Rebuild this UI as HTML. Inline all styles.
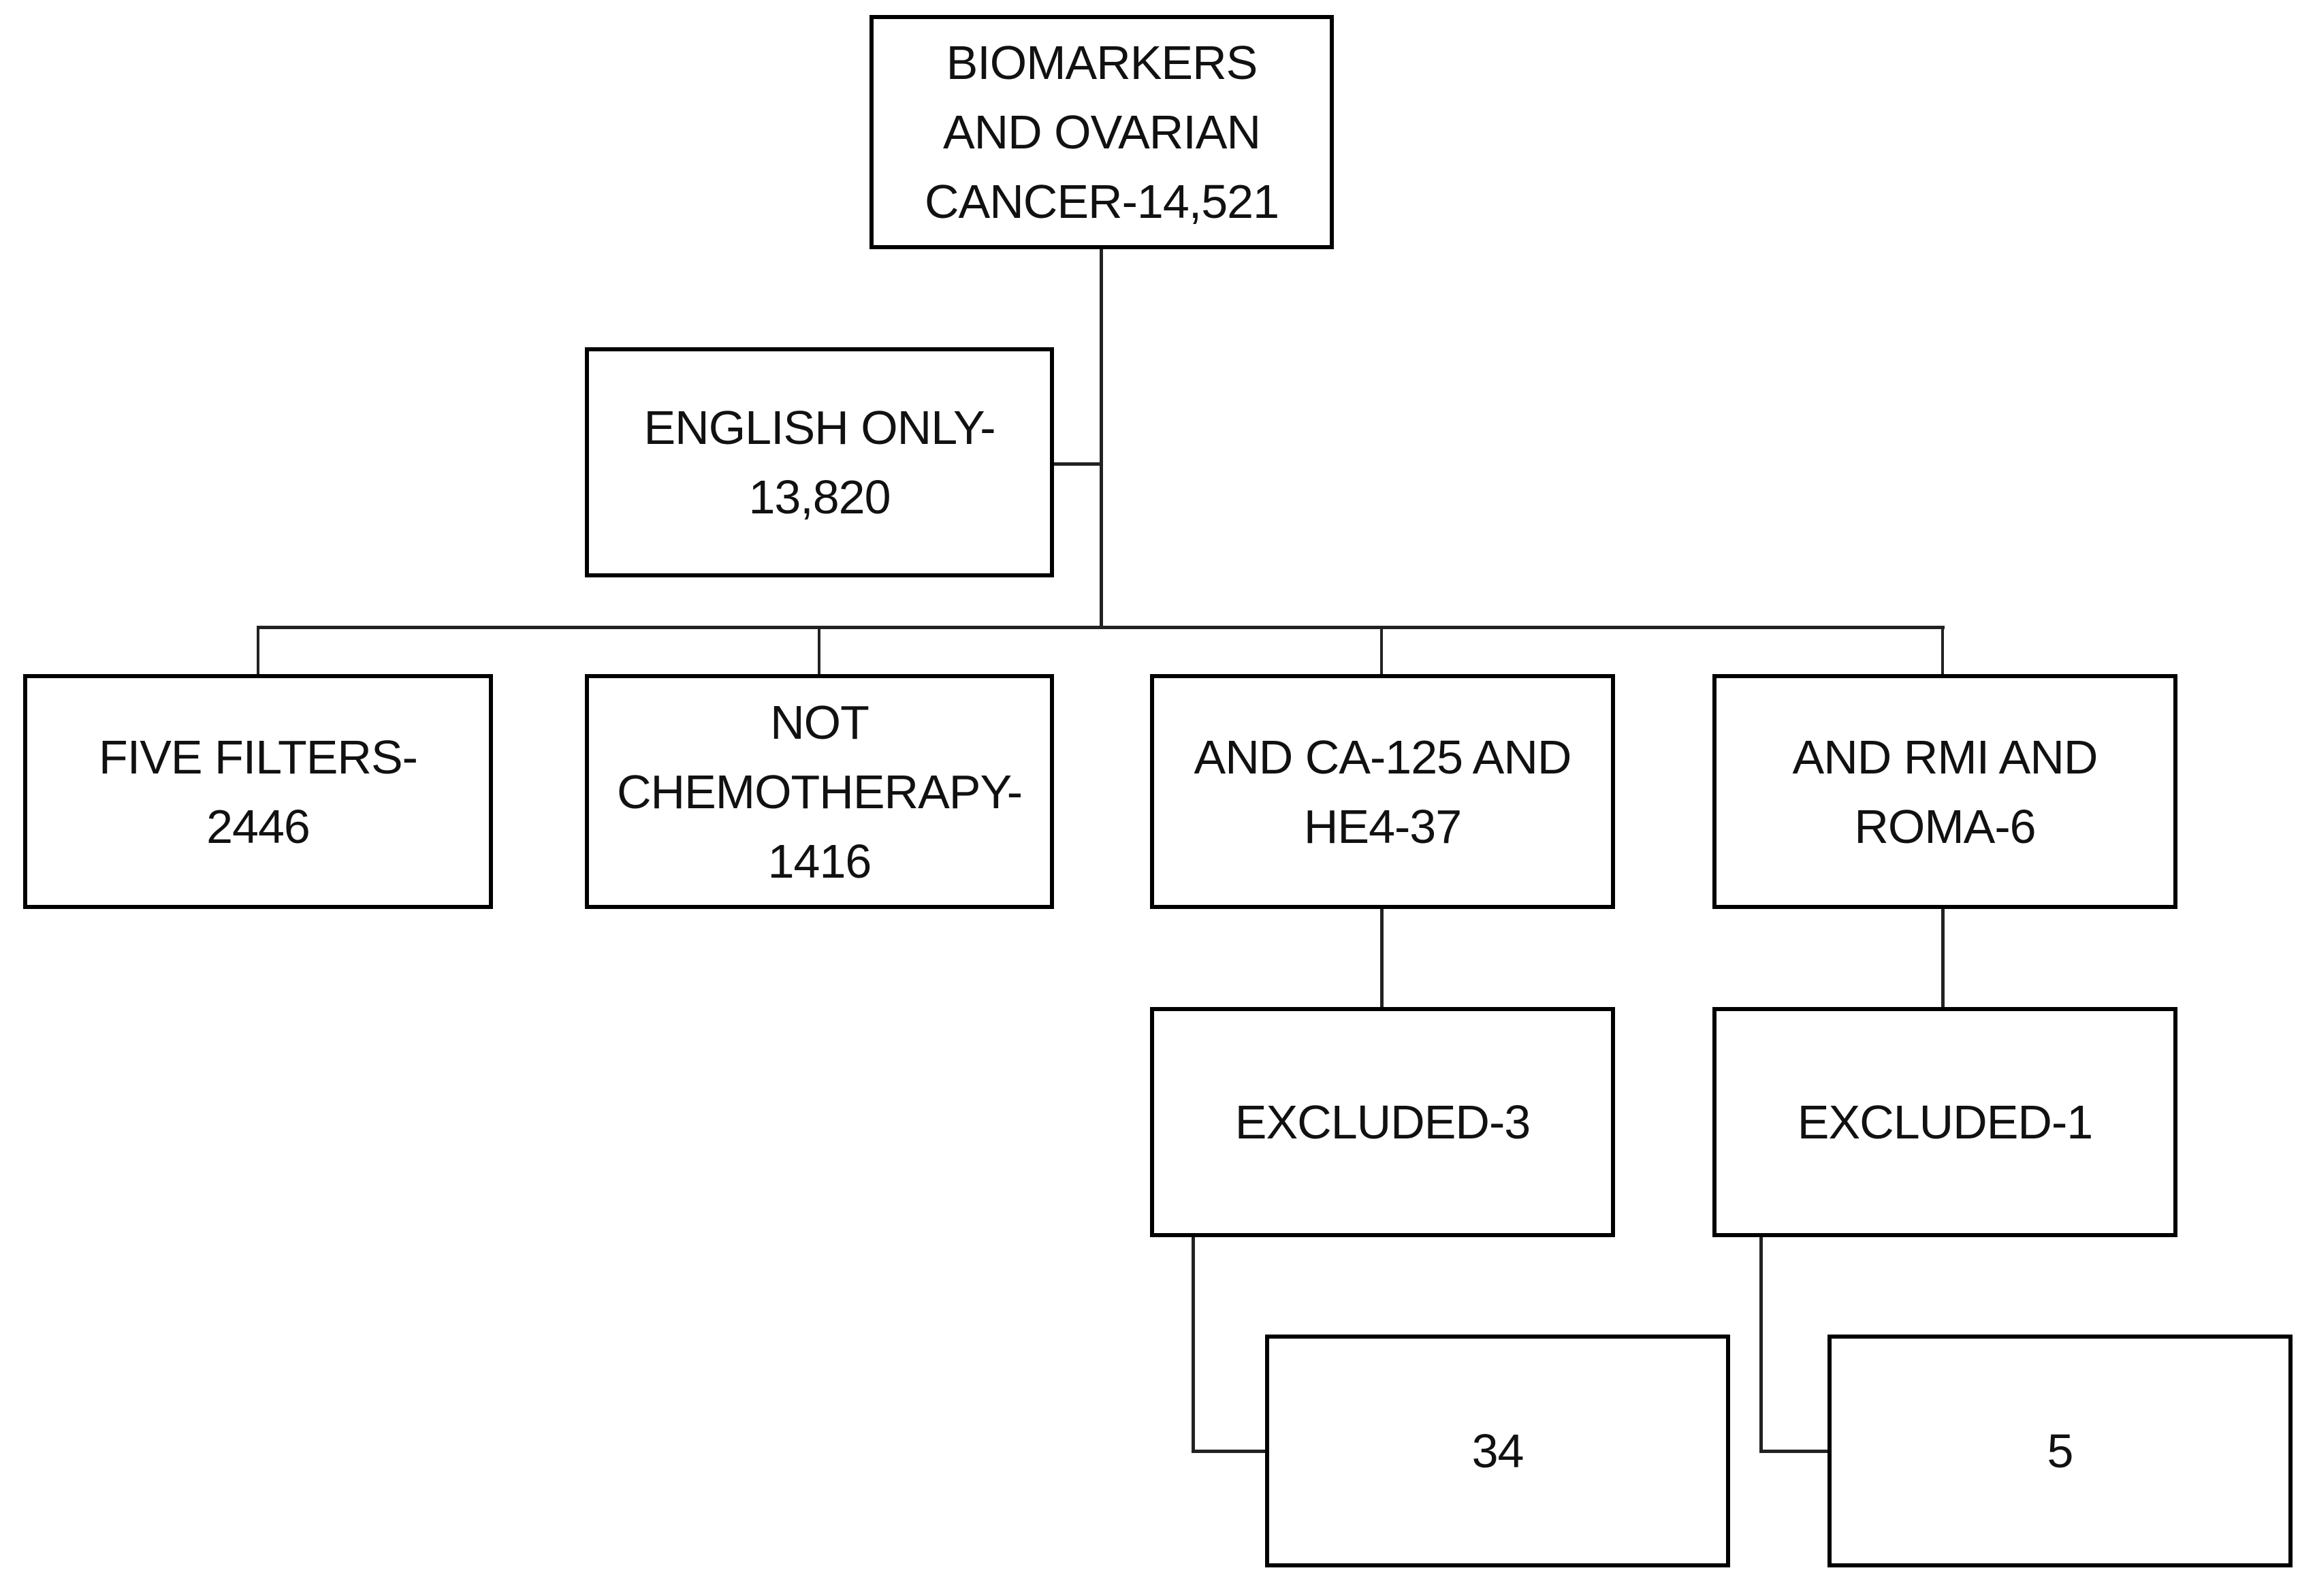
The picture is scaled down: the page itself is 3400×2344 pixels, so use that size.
<!DOCTYPE html>
<html><head><meta charset="utf-8"><style>
body{margin:0;width:3400px;height:2344px;background:#fff;position:relative;overflow:hidden;font-family:"Liberation Sans",sans-serif;}
.b{position:absolute;box-sizing:border-box;border:6px solid #000;display:flex;align-items:center;justify-content:center;text-align:center;font-size:70px;line-height:102px;color:#111;letter-spacing:-1px;}
.l{position:absolute;background:#222;}
</style></head><body>
<div class="l" style="left:1615px;top:364px;width:5px;height:559px"></div>
<div class="l" style="left:1546px;top:679px;width:72px;height:5px"></div>
<div class="l" style="left:377px;top:919px;width:2479px;height:5px"></div>
<div class="l" style="left:377px;top:919px;width:4px;height:74px"></div>
<div class="l" style="left:1201px;top:919px;width:4px;height:74px"></div>
<div class="l" style="left:2027px;top:919px;width:4px;height:74px"></div>
<div class="l" style="left:2851px;top:919px;width:4px;height:74px"></div>
<div class="l" style="left:2027px;top:1333px;width:5px;height:148px"></div>
<div class="l" style="left:2851px;top:1333px;width:5px;height:148px"></div>
<div class="l" style="left:1750px;top:1815px;width:5px;height:318px"></div>
<div class="l" style="left:1750px;top:2129px;width:110px;height:5px"></div>
<div class="l" style="left:2584px;top:1815px;width:5px;height:318px"></div>
<div class="l" style="left:2584px;top:2129px;width:102px;height:5px"></div>

<div class="b" style="left:1277px;top:22px;width:682px;height:344px">BIOMARKERS<br>AND OVARIAN<br>CANCER-14,521</div>
<div class="b" style="left:859px;top:510px;width:689px;height:338px">ENGLISH ONLY-<br>13,820</div>
<div class="b" style="left:34px;top:990px;width:690px;height:345px">FIVE FILTERS-<br>2446</div>
<div class="b" style="left:859px;top:990px;width:689px;height:345px">NOT<br>CHEMOTHERAPY-<br>1416</div>
<div class="b" style="left:1689px;top:990px;width:683px;height:345px">AND CA-125 AND<br>HE4-37</div>
<div class="b" style="left:2515px;top:990px;width:683px;height:345px">AND RMI AND<br>ROMA-6</div>
<div class="b" style="left:1689px;top:1479px;width:683px;height:338px">EXCLUDED-3</div>
<div class="b" style="left:2515px;top:1479px;width:683px;height:338px">EXCLUDED-1</div>
<div class="b" style="left:1858px;top:1960px;width:683px;height:342px">34</div>
<div class="b" style="left:2684px;top:1960px;width:683px;height:342px">5</div>
</body></html>
